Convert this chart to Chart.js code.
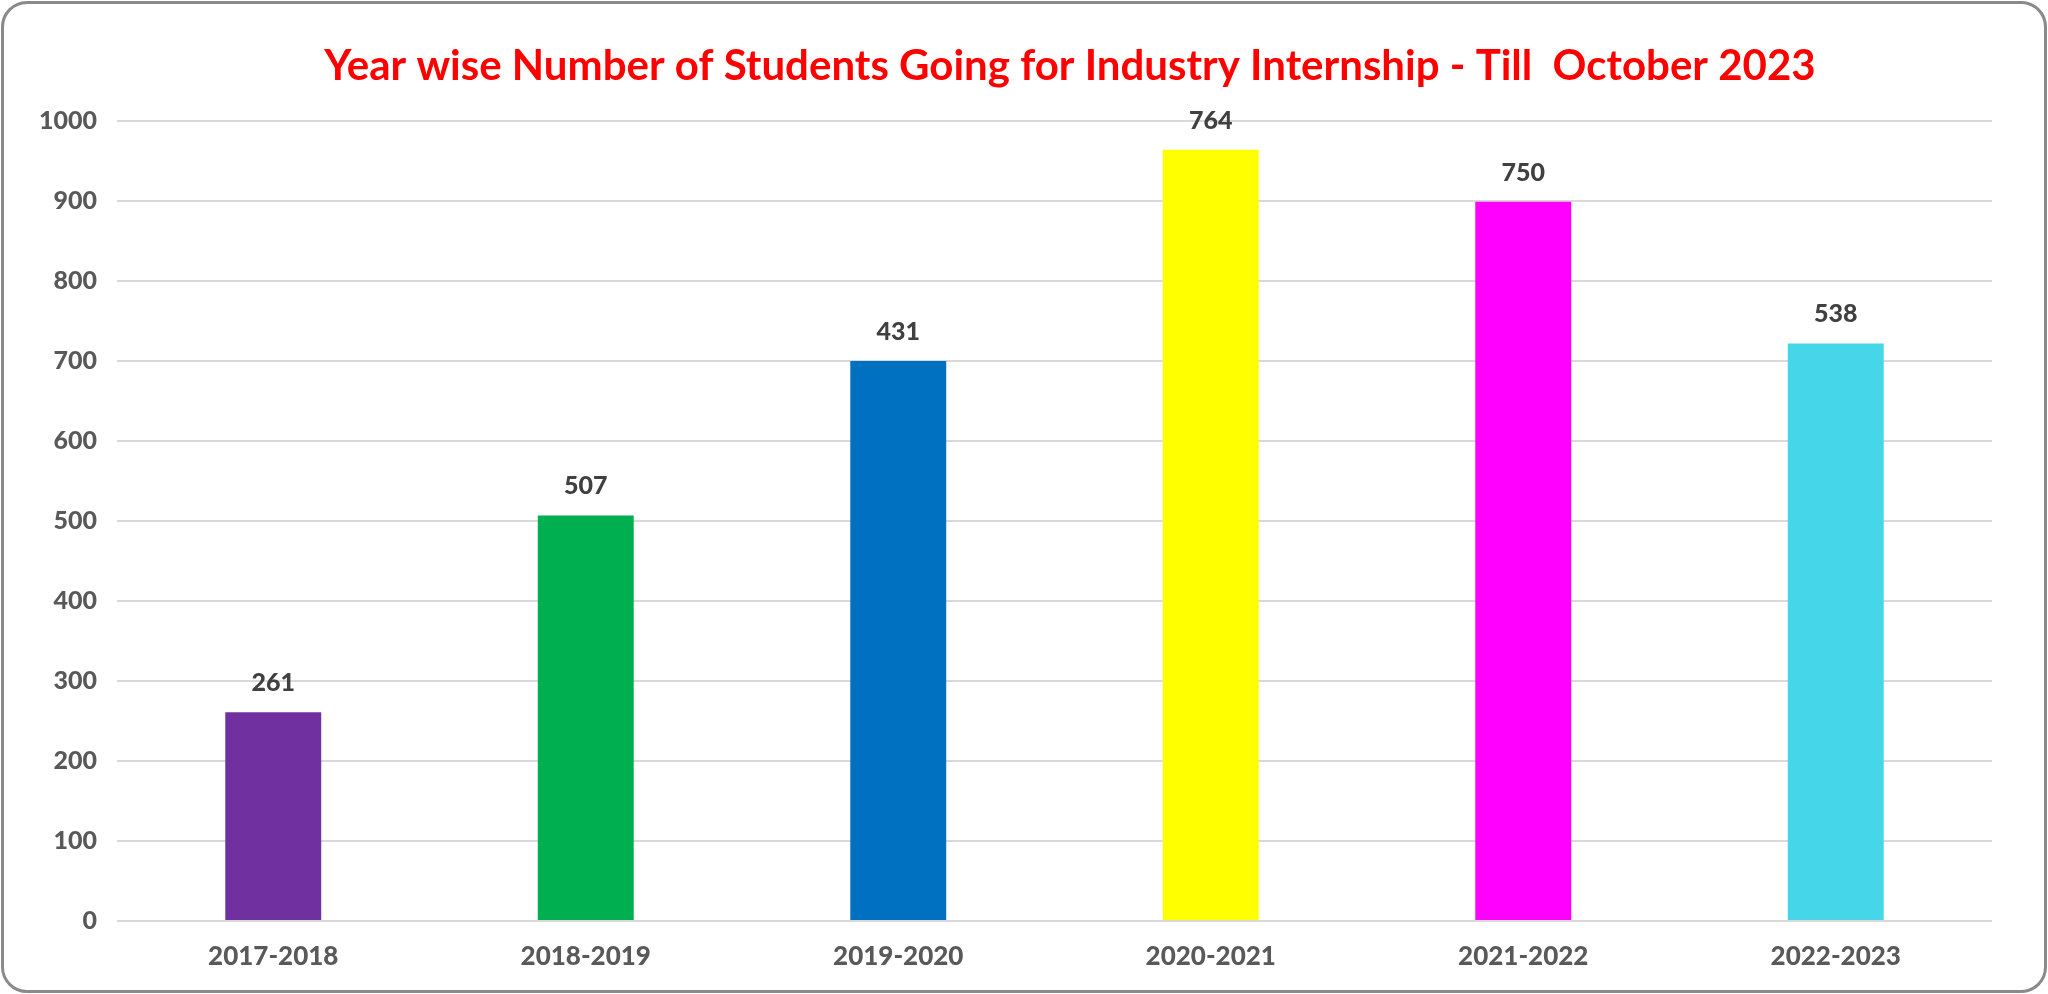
<!DOCTYPE html>
<html>
<head>
<meta charset="utf-8">
<script src="https://cdn.jsdelivr.net/npm/chart.js@4.4.0/dist/chart.umd.min.js"></script>
<style>
  body { margin: 0; background: #fff; }
  #wrap { position: relative; width: 2048px; height: 994px; }
  #frame { position: absolute; left: 1px; top: 1px; width: 2046px; height: 992px; box-sizing: border-box;
           border: 3px solid #8a8a8a; border-radius: 26px; pointer-events: none; }
  canvas { position: absolute; left: 0; top: 0; }
</style>
</head>
<body>
<div id="wrap">
  <canvas id="bar_chart" width="2048" height="994"></canvas>
  <div id="frame"></div>
</div>
<script>
const titulo = "Year wise Number of Students Going for Industry Internship - Till  October 2023";
const years = ["2017-2018", "2018-2019", "2019-2020", "2020-2021", "2021-2022", "2022-2023"];
// bar heights as drawn in the picture
const barValues = [261, 507, 700, 964, 899, 722];
// numbers written above the bars
const barLabels = ["261", "507", "431", "764", "750", "538"];
const barColors = ["#7030a0", "#00b050", "#0070c0", "#ffff00", "#ff00ff", "#45d7e9"];
const yMin = 0, yMax = 1000, yStep = 100;

// title, a bit right of the plot centre like the original
const tituloPlugin = {
  id: "tituloPlugin",
  afterDraw(chart) {
    const ctx = chart.ctx;
    ctx.save();
    ctx.font = "bold 42px Lato";
    ctx.fillStyle = "#ff0000";
    ctx.textAlign = "center";
    ctx.textBaseline = "middle";
    ctx.fillText(titulo, 1070, 66);
    ctx.restore();
  }
};

// writes the numbers above each bar
const etiquetas = {
  id: "etiquetas",
  afterDatasetsDraw(chart) {
    const ctx = chart.ctx;
    const meta = chart.getDatasetMeta(0);
    ctx.save();
    ctx.font = "900 25px Lato";
    ctx.fillStyle = "#404040";
    ctx.textAlign = "center";
    ctx.textBaseline = "middle";
    meta.data.forEach((bar, i) => {
      ctx.fillText(barLabels[i], bar.x, bar.y - 29);
    });
    ctx.restore();
  }
};

const ctx1 = document.getElementById("bar_chart").getContext("2d");
const chart1 = new Chart(ctx1, {
  type: "bar",
  data: {
    labels: years,
    datasets: [
      {
        data: barValues,
        backgroundColor: barColors,
        barPercentage: 0.307,
        categoryPercentage: 1
      }
    ]
  },
  options: {
    responsive: false,
    animation: false,
    layout: { padding: { left: 0, right: 56, top: 121, bottom: 0 } },
    plugins: {
      legend: { display: false },
      tooltip: { enabled: false },
      title: { display: false }
    },
    scales: {
      x: {
        grid: { display: false, drawTicks: false },
        border: { display: false },
        ticks: { color: "#595959", font: { family: "Lato", size: 26, weight: "900" }, padding: 20 },
        afterFit(s) { s.height = 73; }
      },
      y: {
        min: yMin,
        max: yMax,
        grid: { color: "#d9d9d9", lineWidth: 2, drawTicks: false },
        border: { display: false },
        ticks: {
          stepSize: yStep,
          color: "#595959",
          font: { family: "Lato", size: 25, weight: "900" },
          padding: 20,
          callback: (v) => String(v)
        },
        afterFit(s) { s.width = 117; }
      }
    }
  },
  plugins: [etiquetas, tituloPlugin]
});
</script>
</body>
</html>
